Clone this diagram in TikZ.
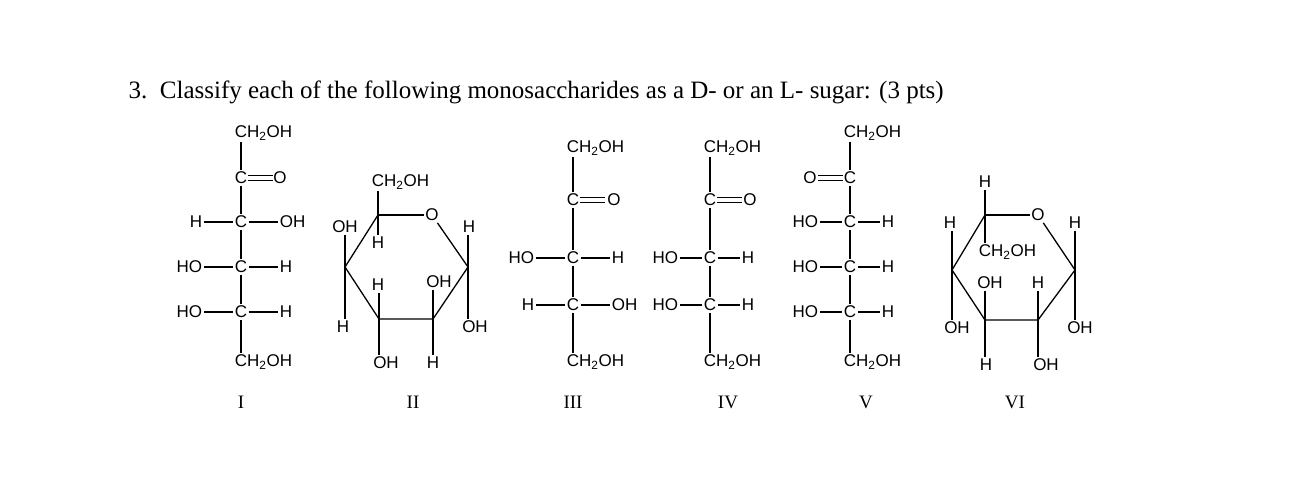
\documentclass[tikz,border=0pt]{standalone}
\usepackage{fontspec}
\setmainfont{Liberation Serif}
\newfontfamily\chemf{Liberation Sans}
\begin{document}
\begin{tikzpicture}[x=1pt,y=1pt,line width=1.3pt,
 atm/.style={font=\chemf\fontsize{17}{17}\selectfont,inner sep=1.2pt},
 lab/.style={font=\fontsize{19}{19}\selectfont,inner sep=0pt}]
\useasboundingbox (0,0) rectangle (1290,-482);
\newcommand\frow[6]{% name x y left right
 \node[atm] (#1) at (#2,-#3) {C};
 \node[atm,anchor=east] (#1l) at (#2-#6,-#3) {#4};
 \node[atm,anchor=west] (#1r) at (#2+#6,-#3) {#5};
 \draw (#1l) -- (#1); \draw (#1) -- (#1r);}
\newcommand\ch[3]{\node[atm,anchor=west] (#1) at (#2-8,-#3) {CH\textsubscript{2}OH};}
\node[anchor=west,inner sep=0pt,font=\fontsize{25}{25}\selectfont] (title) at (128,-92)
 {3.\ \ Classify each of the following monosaccharides as a D- or an L- sugar: (3 pts)};
% ---------- I
\ch{It}{241}{133}
\node[atm] (Ik) at (241,-178) {C}; \node[atm] (Iko) at (280,-178) {O};
\draw ([shift={(7,2.6)}]Ik.center) -- ++(25,0); \draw ([shift={(7,-2.6)}]Ik.center) -- ++(25,0);
\frow{Ia}{241}{222}{H}{OH}{37}
\frow{Ib}{241}{267}{HO}{H}{37}
\frow{Ic}{241}{312}{HO}{H}{37}
\ch{Ib2}{241}{362}
\draw (Ik) -- (Ik |- It.south); \draw (Ik) -- (Ia); \draw (Ia) -- (Ib); \draw (Ib) -- (Ic);
\draw (Ic) -- (Ic |- Ib2.north);
\node[lab] (lI) at (241,-402) {I};
% ---------- III
\ch{IIIt}{573}{148}
\node[atm] (IIIk) at (573,-200) {C}; \node[atm] (IIIko) at (614,-200) {O};
\draw ([shift={(7,2.6)}]IIIk.center) -- ++(25,0); \draw ([shift={(7,-2.6)}]IIIk.center) -- ++(25,0);
\frow{IIIa}{573}{258}{HO}{H}{37}
\frow{IIIb}{573}{305}{H}{OH}{37}
\ch{IIIb2}{573}{362}
\draw (IIIk) -- (IIIk |- IIIt.south); \draw (IIIk) -- (IIIa); \draw (IIIa) -- (IIIb);
\draw (IIIb) -- (IIIb |- IIIb2.north);
\node[lab] (lIII) at (573,-402) {III};
% ---------- IV
\ch{IVt}{710}{148}
\node[atm] (IVk) at (710,-200) {C}; \node[atm] (IVko) at (750,-200) {O};
\draw ([shift={(7,2.6)}]IVk.center) -- ++(25,0); \draw ([shift={(7,-2.6)}]IVk.center) -- ++(25,0);
\frow{IVa}{710}{258}{HO}{H}{30}
\frow{IVb}{710}{305}{HO}{H}{30}
\ch{IVb2}{710}{362}
\draw (IVk) -- (IVk |- IVt.south); \draw (IVk) -- (IVa); \draw (IVa) -- (IVb);
\draw (IVb) -- (IVb |- IVb2.north);
\node[lab] (lIV) at (728,-402) {IV};
% ---------- V
\ch{Vt}{850}{133}
\node[atm] (Vk) at (850,-178) {C}; \node[atm] (Vko) at (810,-178) {O};
\draw ([shift={(-7,2.6)}]Vk.center) -- ++(-25,0); \draw ([shift={(-7,-2.6)}]Vk.center) -- ++(-25,0);
\frow{Va}{850}{222}{HO}{H}{30}
\frow{Vb}{850}{267}{HO}{H}{30}
\frow{Vc}{850}{312}{HO}{H}{30}
\ch{Vb2}{850}{362}
\draw (Vk) -- (Vk |- Vt.south); \draw (Vk) -- (Va); \draw (Va) -- (Vb); \draw (Vb) -- (Vc);
\draw (Vc) -- (Vc |- Vb2.north);
\node[lab] (lV) at (866,-402) {V};
% ---------- II
\coordinate (IIa) at (378,-215); \node[atm] (IIo) at (432,-215) {O};
\coordinate (IIb) at (468,-267); \coordinate (IIc) at (433,-319);
\coordinate (IId) at (379,-319); \coordinate (IIe) at (345,-267);
\draw (IIa) -- (IIo); \draw (IIo) -- (IIb);
\draw[line join=round] (IIb) -- (IIc) -- (IId) -- (IIe) -- (IIa);
\node[atm,anchor=west] (IIch) at (370,-182) {CH\textsubscript{2}OH};
\node[atm] (IIah) at (378,-243) {H};
\node[atm] (IIeo) at (345,-227) {OH}; \node[atm] (IIeh) at (343,-327) {H};
\node[atm] (IIbh) at (469,-227) {H}; \node[atm] (IIbo) at (475,-327) {OH};
\node[atm] (IIdh) at (378,-285) {H}; \node[atm] (IIdo) at (386,-363) {OH};
\node[atm] (IIco) at (439,-282) {OH}; \node[atm] (IIch2) at (433,-363) {H};
\draw (IIa) -- (IIa |- IIch.south); \draw (IIa) -- (IIa |- IIah.north);
\draw (IIe) -- (IIe |- IIeo.south); \draw (IIe) -- (IIe |- IIeh.north);
\draw (IIb) -- (IIb |- IIbh.south); \draw (IIb) -- (IIb |- IIbo.north);
\draw (IId) -- (IId |- IIdh.south); \draw (IId) -- (IId |- IIdo.north);
\draw (IIc) -- (IIc |- IIco.south); \draw (IIc) -- (IIc |- IIch2.north);
\node[lab] (lII) at (413,-402) {II};
% ---------- VI
\coordinate (VIa) at (985,-215); \node[atm] (VIo) at (1038,-215) {O};
\coordinate (VIb) at (1075,-270); \coordinate (VIc) at (1038,-320);
\coordinate (VId) at (985,-320); \coordinate (VIe) at (952,-270);
\draw (VIa) -- (VIo); \draw (VIo) -- (VIb);
\draw[line join=round] (VIb) -- (VIc) -- (VId) -- (VIe) -- (VIa);
\node[atm] (VIah) at (985,-182) {H};
\node[atm,anchor=west] (VIach) at (977,-252) {CH\textsubscript{2}OH};
\node[atm] (VIeh) at (950,-223) {H}; \node[atm] (VIeo) at (957,-328) {OH};
\node[atm] (VIbh) at (1075,-223) {H}; \node[atm] (VIbo) at (1080,-328) {OH};
\node[atm] (VIdo) at (990,-283) {OH}; \node[atm] (VIdh) at (986,-365) {H};
\node[atm] (VIch) at (1038,-283) {H}; \node[atm] (VIco) at (1046,-365) {OH};
\draw (VIa) -- (VIa |- VIah.south); \draw (VIa) -- (VIa |- VIach.north);
\draw (VIe) -- (VIe |- VIeh.south); \draw (VIe) -- (VIe |- VIeo.north);
\draw (VIb) -- (VIb |- VIbh.south); \draw (VIb) -- (VIb |- VIbo.north);
\draw (VId) -- (VId |- VIdo.south); \draw (VId) -- (VId |- VIdh.north);
\draw (VIc) -- (VIc |- VIch.south); \draw (VIc) -- (VIc |- VIco.north);
\node[lab] (lVI) at (1015,-402) {VI};
\end{tikzpicture}
\end{document}
